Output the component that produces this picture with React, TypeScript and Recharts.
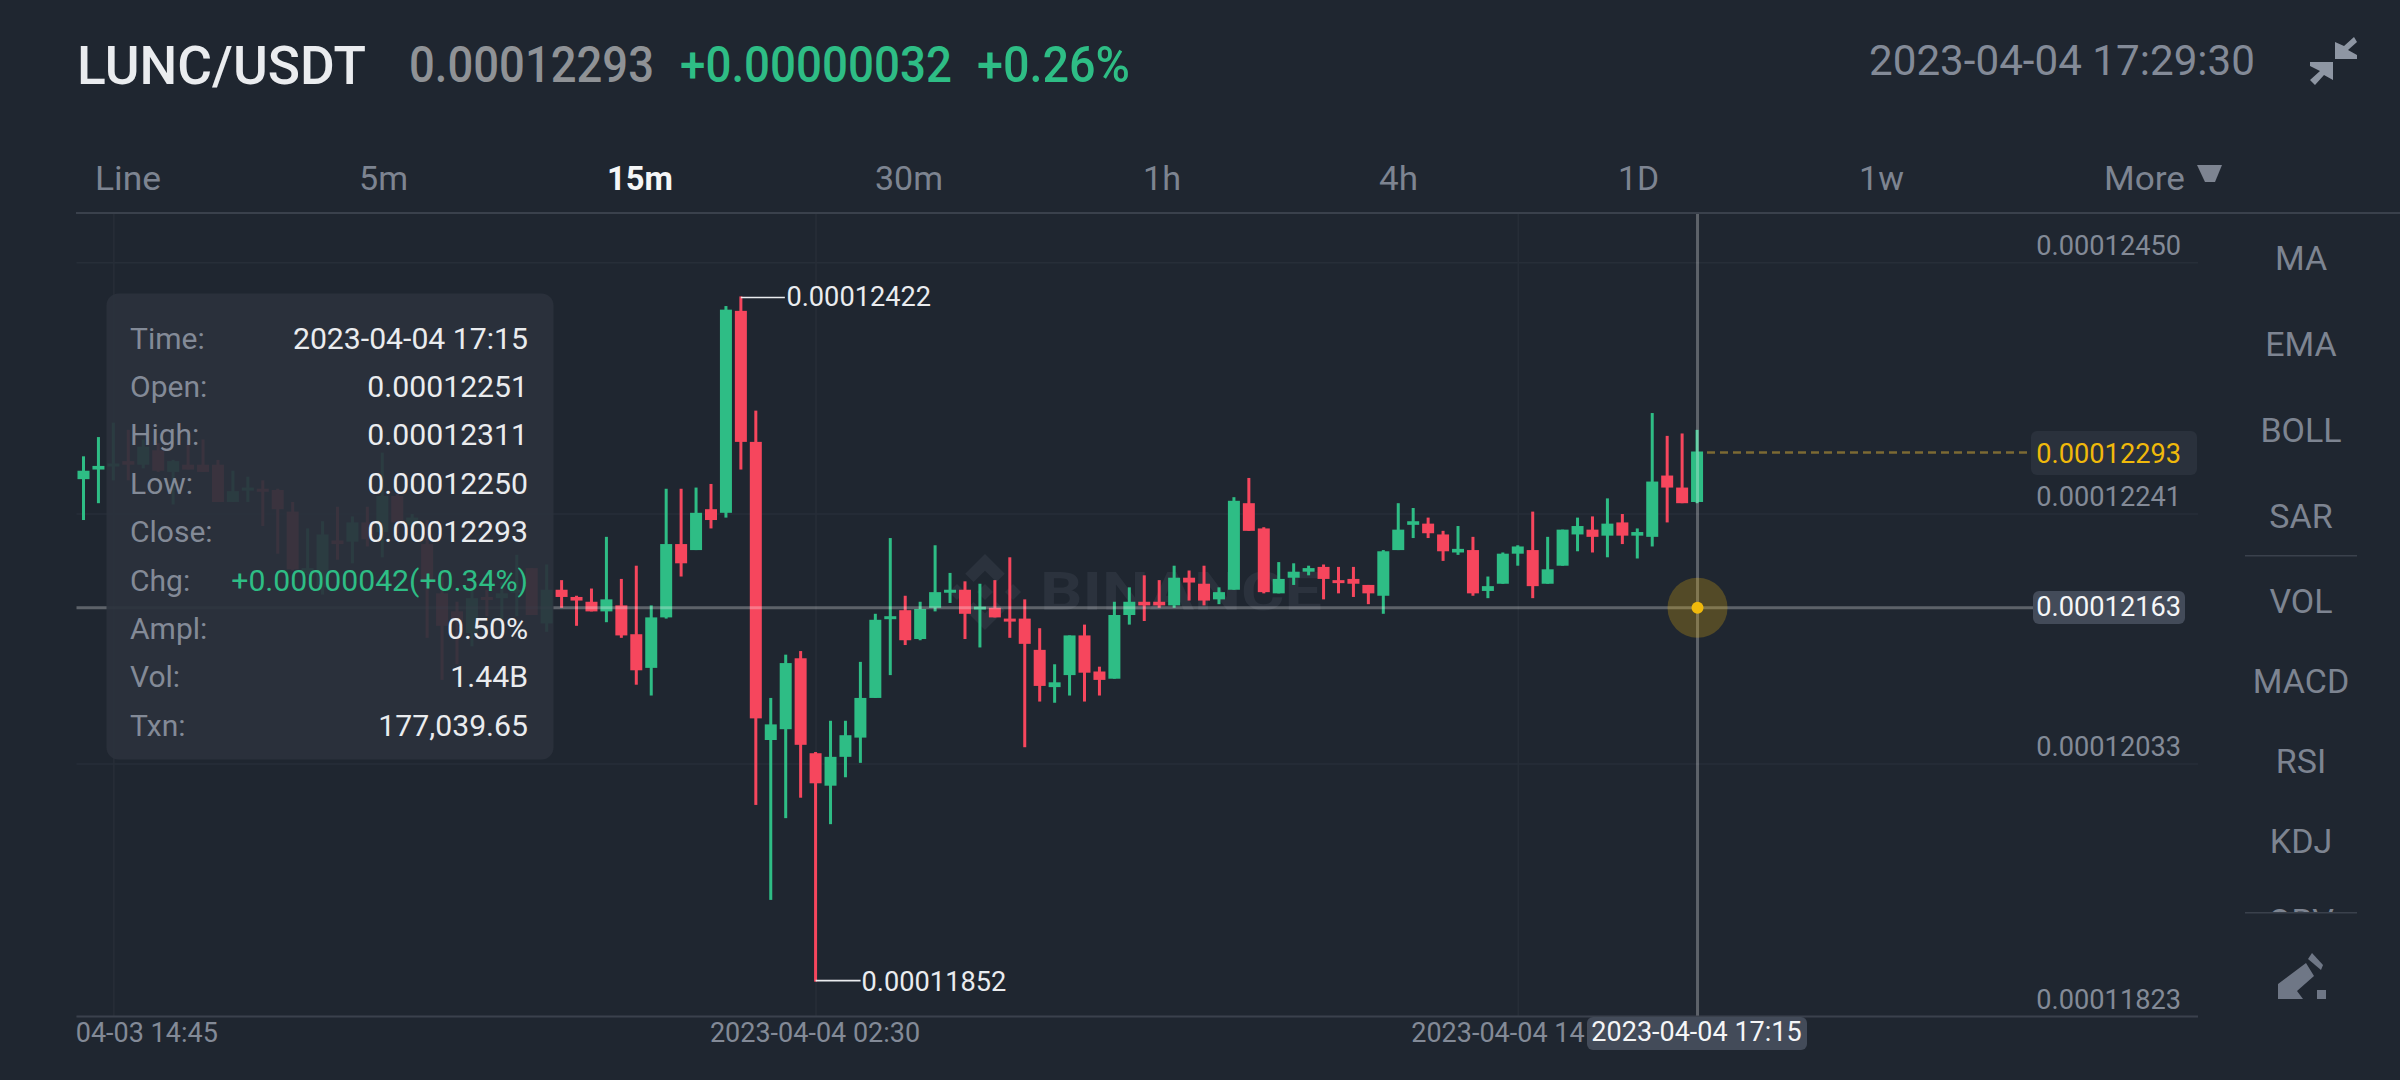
import React from "react";
import { ComposedChart, Bar, XAxis, YAxis, CartesianGrid, ReferenceLine, ReferenceDot } from "recharts";

const BG = "#1f2630";
const GREEN = "#2ebd85";
const RED = "#f6465d";
const GOLD = "#f0b90b";
const MUTED = "#838a97";
const FONT = "Roboto, sans-serif";
const CROSS_STROKE = "rgba(255,255,255,0.28)";

// prices in units of 0.00000001
const opens = [
  12270, 12278, 12282, 12285, 12282, 12294, 12276, 12282, 12282, 12282,
  12251, 12261, 12262, 12261, 12243, 12192, 12180, 12219, 12218, 12234,
  12226, 12256, 12232, 12216, 12175, 12160, 12142, 12172, 12171, 12176,
  12196, 12150, 12178, 12172, 12168, 12160, 12165, 12141, 12113, 12155,
  12216, 12211, 12245, 12242, 12410, 12301, 12053, 12062, 12121, 12042,
  12015, 12039, 12055, 12088, 12154, 12161, 12137, 12163, 12176, 12178,
  12162, 12163, 12154, 12154, 12128, 12097, 12107, 12140, 12110, 12104,
  12157, 12168, 12168, 12165, 12188, 12183, 12170, 12178, 12250, 12229,
  12175, 12188, 12193, 12197, 12186, 12187, 12182, 12173, 12211, 12232,
  12233, 12224, 12209, 12211, 12177, 12183, 12208, 12211, 12183, 12198,
  12224, 12228, 12223, 12234, 12223, 12222, 12273, 12263, 12251,
];
const highs = [
  12289, 12305, 12317, 12311, 12303, 12300, 12286, 12303, 12303, 12286,
  12277, 12272, 12269, 12262, 12251, 12229, 12235, 12247, 12239, 12247,
  12292, 12258, 12241, 12236, 12189, 12168, 12178, 12178, 12184, 12207,
  12196, 12199, 12186, 12173, 12179, 12222, 12187, 12198, 12165, 12262,
  12262, 12263, 12266, 12414, 12422, 12327, 12088, 12124, 12127, 12043,
  12069, 12069, 12118, 12158, 12221, 12173, 12168, 12215, 12192, 12185,
  12183, 12186, 12205, 12170, 12146, 12116, 12140, 12149, 12114, 12168,
  12180, 12190, 12186, 12198, 12194, 12198, 12180, 12255, 12271, 12230,
  12201, 12200, 12198, 12199, 12197, 12197, 12182, 12211, 12250, 12246,
  12238, 12227, 12231, 12222, 12189, 12209, 12215, 12243, 12222, 12228,
  12238, 12239, 12254, 12241, 12229, 12325, 12306, 12308, 12311,
];
const lows = [
  12236, 12250, 12269, 12269, 12279, 12276, 12249, 12278, 12276, 12251,
  12251, 12251, 12231, 12208, 12194, 12190, 12174, 12203, 12200, 12214,
  12205, 12225, 12225, 12138, 12103, 12116, 12131, 12156, 12153, 12156,
  12157, 12143, 12163, 12148, 12160, 12151, 12138, 12099, 12090, 12154,
  12189, 12211, 12229, 12238, 12278, 11999, 11920, 11988, 12005, 11852,
  11983, 12022, 12034, 12088, 12107, 12132, 12136, 12160, 12167, 12137,
  12130, 12155, 12138, 12047, 12085, 12084, 12090, 12085, 12090, 12104,
  12149, 12152, 12163, 12163, 12169, 12165, 12166, 12178, 12227, 12175,
  12175, 12182, 12190, 12170, 12175, 12172, 12166, 12158, 12211, 12221,
  12221, 12202, 12207, 12173, 12171, 12183, 12198, 12171, 12183, 12198,
  12210, 12209, 12205, 12216, 12204, 12214, 12234, 12250, 12250,
];
const closes = [
  12277, 12281, 12283, 12282, 12297, 12277, 12285, 12278, 12276, 12251,
  12260, 12263, 12260, 12245, 12195, 12196, 12224, 12216, 12234, 12220,
  12256, 12234, 12238, 12186, 12148, 12152, 12171, 12170, 12175, 12178,
  12157, 12178, 12172, 12169, 12160, 12170, 12140, 12111, 12155, 12216,
  12200, 12242, 12236, 12411, 12301, 12071, 12066, 12117, 12049, 12017,
  12039, 12057, 12088, 12153, 12156, 12136, 12162, 12176, 12178, 12158,
  12164, 12155, 12152, 12133, 12098, 12101, 12140, 12109, 12103, 12157,
  12168, 12165, 12165, 12188, 12184, 12169, 12176, 12252, 12227, 12176,
  12187, 12193, 12196, 12187, 12184, 12183, 12175, 12210, 12228, 12235,
  12225, 12210, 12212, 12175, 12181, 12208, 12214, 12181, 12195, 12228,
  12231, 12222, 12233, 12223, 12226, 12268, 12263, 12250, 12293,
];

const START_MS = Date.UTC(2023, 3, 3, 14, 15);
const pad2 = (n: number) => String(n).padStart(2, "0");
const timeLabel = (i: number) => {
  const d = new Date(START_MS + i * 15 * 60000);
  return `2023-${pad2(d.getUTCMonth() + 1)}-${pad2(d.getUTCDate())} ${pad2(d.getUTCHours())}:${pad2(d.getUTCMinutes())}`;
};
const times = opens.map((_, i) => timeLabel(i));

const yTicks = [12450, 12241, 12033, 11823];
const xTicks = [times[2], times[49], times[96]];
const xTickTexts = ["04-03 14:45", "2023-04-04 02:30", "2023-04-04 14"];
const CROSS_TIME = times[108];
const CROSS_PRICE = 12163;
const LAST_PRICE = 12293;
const MAX_HIGH = Math.max(...highs);
const MIN_LOW = Math.min(...lows);

const periodTabs: [string, number, number][] = [
  ["Line", 95, 66], ["5m", 359, 49], ["15m", 607, 66], ["30m", 875, 68], ["1h", 1143, 38],
  ["4h", 1379, 39], ["1D", 1618, 41], ["1w", 1859, 45], ["More", 2104, 81],
];
const sideItems: [string, number][] = [
  ["MA", 258], ["EMA", 344], ["BOLL", 430], ["SAR", 516], ["VOL", 601], ["MACD", 681], ["RSI", 761], ["KDJ", 841],
];
const infoRows: [string, string, string?][] = [
  ["Time:", "2023-04-04 17:15"], ["Open:", "0.00012251"], ["High:", "0.00012311"], ["Low:", "0.00012250"],
  ["Close:", "0.00012293"], ["Chg:", "+0.00000042(+0.34%)", GREEN], ["Ampl:", "0.50%"], ["Vol:", "1.44B"], ["Txn:", "177,039.65"],
];
const infoRowCenters = [339, 387, 435, 484, 532, 581, 629, 677, 726];

const data = times.map((time, i) => ({ time, open: opens[i], high: highs[i], low: lows[i], close: closes[i] }));

const fmtPrice = (v: number) => (v / 1e8).toFixed(8);

const Candle = (props: any) => {
  const { x, y, width, height, payload } = props;
  const { open, close, high, low } = payload;
  const unit = height / Math.max(high - low, 1e-6);
  const color = close >= open ? GREEN : RED;
  const top = y + (high - Math.max(open, close)) * unit;
  const bodyH = Math.max(Math.abs(open - close) * unit, 3);
  const cx = x + width / 2;
  const labelColor = "#eaecef";
  return (
    <g>
      <rect x={cx - 1.5} y={y} width={3} height={height} fill={color} />
      <rect x={x} y={top} width={width} height={bodyH} fill={color} />
      {high === MAX_HIGH && (
        <g>
          <line x1={cx} x2={cx + 44} y1={y + 1} y2={y + 1} stroke={labelColor} strokeWidth={1.6} />
          <text x={cx + 45.5} y={y + 10} fontSize={27.2} fill={labelColor} fontFamily={FONT}>{fmtPrice(high)}</text>
        </g>
      )}
      {low === MIN_LOW && (
        <g>
          <line x1={cx} x2={cx + 45} y1={y + height - 1} y2={y + height - 1} stroke={labelColor} strokeWidth={1.6} />
          <text x={cx + 46} y={y + height + 9} fontSize={27.2} fill={labelColor} fontFamily={FONT}>{fmtPrice(low)}</text>
        </g>
      )}
    </g>
  );
};

const PriceTick = (props: any) => {
  const { y, payload } = props;
  return (
    <text x={2181} y={y - 8} textAnchor="end" fontSize={27.2} fill={MUTED} fontFamily={FONT}>{fmtPrice(payload.value)}</text>
  );
};

const TimeTick = (props: any) => {
  const { x, y, payload } = props;
  const idx = xTicks.indexOf(payload.value);
  const anchor = idx === 0 ? "end" : idx === 2 ? "start" : "middle";
  const tx = idx === 0 ? x + 104 : idx === 2 ? x - 107 : x - 1;
  return (
    <text x={tx} y={y + 25} textAnchor={anchor} fontSize={27} fill={MUTED} fontFamily={FONT}>{xTickTexts[idx]}</text>
  );
};

const CrossH = (p: any) => (
  <line x1={Math.min(p.x1, p.x2)} x2={2034} y1={p.y1} y2={p.y2} stroke={CROSS_STROKE} strokeWidth={3} />
);
const LastLine = (p: any) => (
  <line x1={1707} x2={2029} y1={p.y1 + 1} y2={p.y2 + 1} stroke="#7c6a33" strokeWidth={2.5} strokeDasharray="8 5" />
);

const T = (p: any) => {
  const { x, y, size, color, anchor, weight, len, children } = p;
  return (
    <text x={x} y={y} fontSize={size} fill={color} textAnchor={anchor || "start"} fontWeight={weight || 400}
      fontFamily={FONT} textLength={len} lengthAdjust={len ? "spacingAndGlyphs" : undefined}>{children}</text>
  );
};

const Watermark = () => {
  const s = 38;
  const cx = 985;
  const cy = 592;
  const d = (dx: number, dy: number, r: number) =>
    `${cx + dx},${cy + dy - r} ${cx + dx + r},${cy + dy} ${cx + dx},${cy + dy + r} ${cx + dx - r},${cy + dy}`;
  const chev = (sign: number) =>
    [[0, -1], [0.52, -0.48], [0.3, -0.26], [0, -0.56], [-0.3, -0.26], [-0.52, -0.48]]
      .map(([a, b]) => `${cx + a * s},${cy + sign * b * s}`).join(" ");
  const c = "#2b323d";
  return (
    <svg width={2400} height={1080} style={{ position: "absolute", left: 0, top: 0 }}>
      <polygon points={chev(1)} fill={c} />
      <polygon points={chev(-1)} fill={c} />
      <polygon points={d(0, 0, 8)} fill={c} />
      <polygon points={d(-28, 0, 8)} fill={c} />
      <polygon points={d(28, 0, 8)} fill={c} />
      <T x={1040} y={610} size={53} color={c} weight={700} len={282}>BINANCE</T>
    </svg>
  );
};

const Overlay = () => (
  <svg width={2400} height={1080} style={{ position: "absolute", left: 0, top: 0 }}>
    <defs>
      <clipPath id="side-clip"><rect x={2240} y={880} width={130} height={33} /></clipPath>
    </defs>
    {/* header */}
    <T x={77} y={84} size={53} color="#eaecef" weight={500} len={289}>LUNC/USDT</T>
    <T x={409} y={82} size={50} color="#8f9296" weight={500} len={245}>0.00012293</T>
    <T x={680} y={82} size={50} color={GREEN} weight={500} len={272}>+0.00000032</T>
    <T x={977} y={82} size={50} color={GREEN} weight={500} len={153}>+0.26%</T>
    <T x={1869} y={75} size={42} color={MUTED} len={386}>2023-04-04 17:29:30</T>
    <polygon points="2335,59 2335,42 2344,46 2354,37 2357,42 2348,50 2357,55 2357,59" fill="#8e96a3" />
    <polygon points="2333,62 2333,80 2324,75 2315,85 2310,80 2320,71 2310,66 2310,62" fill="#8e96a3" />

    {/* period tabs */}
    {periodTabs.map(([label, x, w]) => (
      <T key={label} x={x} y={190} size={34} color={label === "15m" ? "#f5f6f7" : "#7d8491"}
        weight={label === "15m" ? 700 : 400} len={w}>{label}</T>
    ))}
    <polygon points="2197,165 2222,165 2215,182 2205,182" fill="#7d8491" />
    <rect x={76} y={212} width={2324} height={2} fill="#3a414c" />

    {/* right-hand price badges */}
    <rect x={2031} y={431} width={166} height={44} rx={6} fill="#2a313c" />
    <T x={2181} y={463} size={27.2} color={GOLD} anchor="end">{fmtPrice(LAST_PRICE)}</T>
    <rect x={2033} y={591} width={152} height={33} rx={6} fill="#434b59" />
    <T x={2181} y={616} size={27.2} color="#f5f6f7" anchor="end">{fmtPrice(CROSS_PRICE)}</T>

    {/* bottom crosshair time badge */}
    <rect x={1587} y={1017} width={220} height={33} rx={6} fill="#434b59" />
    <T x={1696.5} y={1041} size={27} color="#f5f6f7" anchor="middle">{CROSS_TIME}</T>

    {/* side menu */}
    {sideItems.map(([label, y]) => (
      <T key={label} x={2301} y={y + 12} size={34} color="#7d8491" anchor="middle">{label}</T>
    ))}
    <rect x={2245} y={555} width={112} height={1.5} fill="#3a414c" />
    <g clipPath="url(#side-clip)">
      <T x={2301} y={933} size={34} color="#7d8491" anchor="middle">OBV</T>
    </g>
    <rect x={2245} y={912} width={112} height={1.5} fill="#3a414c" />
    <polygon points="2278,999 2278,984 2306,963 2314,976 2297,991 2303,999" fill="#6f7786" />
    <polygon points="2312,953 2323,965 2321,970 2308,959" fill="#6f7786" />
    <rect x={2317} y={990} width={9} height={9} fill="#6f7786" />

    {/* info panel */}
    <rect x={106.5} y={293.5} width={447} height={466} rx={12} fill="#2b313c" fillOpacity={0.93} />
    {infoRows.map(([label, value, color], i) => (
      <g key={label}>
        <T x={130} y={infoRowCenters[i] + 10} size={30} color={MUTED}>{label}</T>
        <T x={528} y={infoRowCenters[i] + 10} size={30.2} color={color || "#eaecef"} anchor="end">{value}</T>
      </g>
    ))}
  </svg>
);

export default function App() {
  return (
    <div style={{ position: "fixed", left: 0, top: 0, width: 2400, height: 1080, background: BG, overflow: "hidden" }}>
      <Watermark />
      <div style={{ position: "absolute", left: 0, top: 0 }}>
        <ComposedChart width={2400} height={1080} data={data} margin={{ top: 213, right: 202, bottom: 0, left: 76.5 }} barCategoryGap={0}>
          <CartesianGrid stroke="#272e38" strokeWidth={1.5} syncWithTicks />
          <XAxis dataKey="time" type="category" ticks={xTicks} interval={0} height={63.5} tickSize={0} tickMargin={0}
            tick={<TimeTick />} axisLine={{ stroke: "#3a414c", strokeWidth: 2 }} tickLine={false}
            padding={{ left: 0, right: 493 }} />
          <YAxis type="number" orientation="right" mirror domain={[11823, 12491.4]} ticks={yTicks} interval={0}
            tick={<PriceTick />} axisLine={false} tickLine={false} allowDataOverflow />
          <Bar dataKey={(d: any) => [d.low, d.high]} barSize={12} shape={<Candle />} isAnimationActive={false} />
          <ReferenceLine x={CROSS_TIME} stroke={CROSS_STROKE} strokeWidth={3} />
          <ReferenceLine y={CROSS_PRICE} shape={<CrossH />} />
          <ReferenceLine y={LAST_PRICE} shape={<LastLine />} />
          <ReferenceDot x={CROSS_TIME} y={CROSS_PRICE} r={30} fill={GOLD} fillOpacity={0.25} stroke="none" />
          <ReferenceDot x={CROSS_TIME} y={CROSS_PRICE} r={6} fill={GOLD} stroke="none" />
        </ComposedChart>
      </div>
      <Overlay />
    </div>
  );
}
